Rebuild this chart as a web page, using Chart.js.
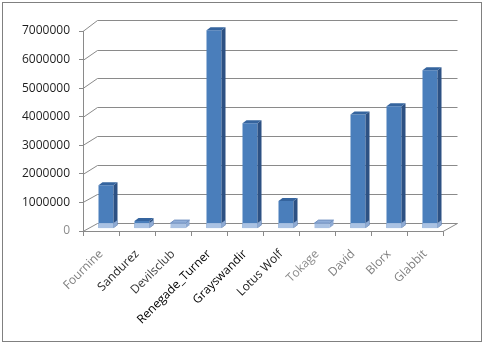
<!DOCTYPE html>
<html>
<head>
<meta charset="utf-8">
<title>Scores</title>
<script src="https://cdn.jsdelivr.net/npm/chart.js@4/dist/chart.umd.min.js"></script>
<style>
  html, body { margin: 0; padding: 0; background: #fff; }
  canvas { display: block; }
</style>
</head>
<body>
<canvas id="chart" width="483" height="343"></canvas>
<script>
// data
const categories = ['Fournine', 'Sandurez', 'Devilsclub', 'Renegade_Turner', 'Grayswandir',
                    'Lotus Wolf', 'Tokage', 'David', 'Blorx', 'Glabbit'];
const values = [1520000, 270000, 30000, 6940000, 3690000, 970000, 20000, 3990000, 4280000, 5540000];
const yTickValues = [0, 1000000, 2000000, 3000000, 4000000, 5000000, 6000000, 7000000];
const labelColors = ['#7f7f7f', '#262626', '#3a3a3a', '#000000', '#000000',
                     '#1a1a1a', '#8c8c8c', '#7f7f7f', '#7f7f7f', '#808080'];

// fake 3d look
const DEPTH_X = 14.5;
const DEPTH_Y = 8.4;
const BAR_SHIFT_X = 5;
const BAR_SHIFT_Y = -2.4;
const SIDE_X = 4;
const SIDE_Y = -3;
const FOOT = 5;
const GRID = '#8a8a8a';

const wall3d = {
    id: 'wall3d',
    beforeDraw(chart) {
        const ctx = chart.ctx;
        const a = chart.chartArea;
        const y = chart.scales.y;
        ctx.save();
        ctx.fillStyle = '#fff';
        ctx.fillRect(0, 0, chart.width, chart.height);
        ctx.strokeStyle = '#808080';
        ctx.lineWidth = 1;
        ctx.strokeRect(2.5, 2.5, chart.width - 4, chart.height - 4);

        ctx.strokeStyle = GRID;
        yTickValues.forEach(v => {
            const fy = Math.round(y.getPixelForValue(v)) + 0.5;
            const by = Math.round(fy - DEPTH_Y - 3 * v / 7000000) + 0.5;
            ctx.beginPath();
            ctx.moveTo(a.left, fy);
            ctx.lineTo(a.left + DEPTH_X, by);
            ctx.lineTo(a.right + DEPTH_X, by);
            ctx.stroke();
        });
        // right edge of the floor
        const f0 = Math.round(y.getPixelForValue(0)) + 0.5;
        ctx.beginPath();
        ctx.moveTo(a.right, f0);
        ctx.lineTo(a.right + DEPTH_X, Math.round(f0 - DEPTH_Y) + 0.5);
        ctx.stroke();
        ctx.restore();
    }
};

function side(ctx, x, top, bottom) {
    ctx.beginPath();
    ctx.moveTo(x, top);
    ctx.lineTo(x + SIDE_X, top + SIDE_Y);
    ctx.lineTo(x + SIDE_X, bottom + SIDE_Y);
    ctx.lineTo(x, bottom);
    ctx.closePath();
    ctx.fill();
}

const bars3d = {
    id: 'bars3d',
    beforeDatasetsDraw(chart) {
        chart.ctx.save();
        chart.ctx.translate(BAR_SHIFT_X, BAR_SHIFT_Y);
    },
    afterDatasetsDraw(chart) {
        const ctx = chart.ctx;
        chart.getDatasetMeta(0).data.forEach(bar => {
            const p = bar.getProps(['x', 'y', 'base', 'width'], true);
            const l = p.x - p.width / 2;
            const r = p.x + p.width / 2;
            const tall = p.base - p.y > FOOT;
            const top = Math.min(p.y, p.base - FOOT);

            // side face
            ctx.fillStyle = '#2d5183';
            side(ctx, r, p.y, p.base);

            // light foot at the floor
            const fy = p.base - FOOT;
            ctx.fillStyle = '#aac2e3';
            ctx.fillRect(l, fy, p.width, FOOT);
            ctx.fillStyle = '#8eaad3';
            side(ctx, r, fy, p.base);

            // top cap
            ctx.fillStyle = tall ? '#35649e' : '#8fadd8';
            ctx.beginPath();
            ctx.moveTo(l, top);
            ctx.lineTo(l + SIDE_X, top + SIDE_Y);
            ctx.lineTo(r + SIDE_X, top + SIDE_Y);
            ctx.lineTo(r, top);
            ctx.closePath();
            ctx.fill();
            if (!tall) {
                ctx.strokeStyle = '#6f8fc0';
                ctx.lineWidth = 1;
                ctx.stroke();
            }
        });
        ctx.restore();
    }
};

new Chart(document.getElementById('chart'), {
    type: 'bar',
    data: {
        labels: categories,
        datasets: [{
            data: values,
            backgroundColor: '#4a7ebb',
            borderWidth: 0,
            categoryPercentage: 1,
            barPercentage: 0.4167
        }]
    },
    options: {
        responsive: false,
        animation: false,
        devicePixelRatio: 1,
        layout: { padding: { top: 31, right: 40, bottom: 0, left: 0 } },
        plugins: {
            legend: { display: false },
            tooltip: { enabled: false }
        },
        scales: {
            x: {
                afterFit(scale) { scale.height = 112; },
                grid: { drawOnChartArea: false, drawTicks: true, tickLength: 5, color: GRID },
                border: { display: true, color: GRID },
                ticks: {
                    autoSkip: false,
                    minRotation: 45,
                    maxRotation: 45,
                    padding: 11,
                    font: { family: 'Open Sans', size: 12 },
                    color: c => labelColors[c.index]
                }
            },
            y: {
                min: 0,
                max: 7000000,
                afterFit(scale) { scale.width = 83; },
                afterBuildTicks(scale) { scale.ticks = yTickValues.map(v => ({ value: v })); },
                grid: { drawOnChartArea: false, drawTicks: true, tickLength: 4, color: GRID },
                border: { display: true, color: GRID },
                ticks: {
                    padding: 9,
                    font: { family: 'Open Sans', size: 12 },
                    color: c => (c.tick && c.tick.value === 0) ? '#8c8c8c' : '#1e1e1e',
                    callback: v => String(v)
                }
            }
        }
    },
    plugins: [wall3d, bars3d]
});
</script>
</body>
</html>
